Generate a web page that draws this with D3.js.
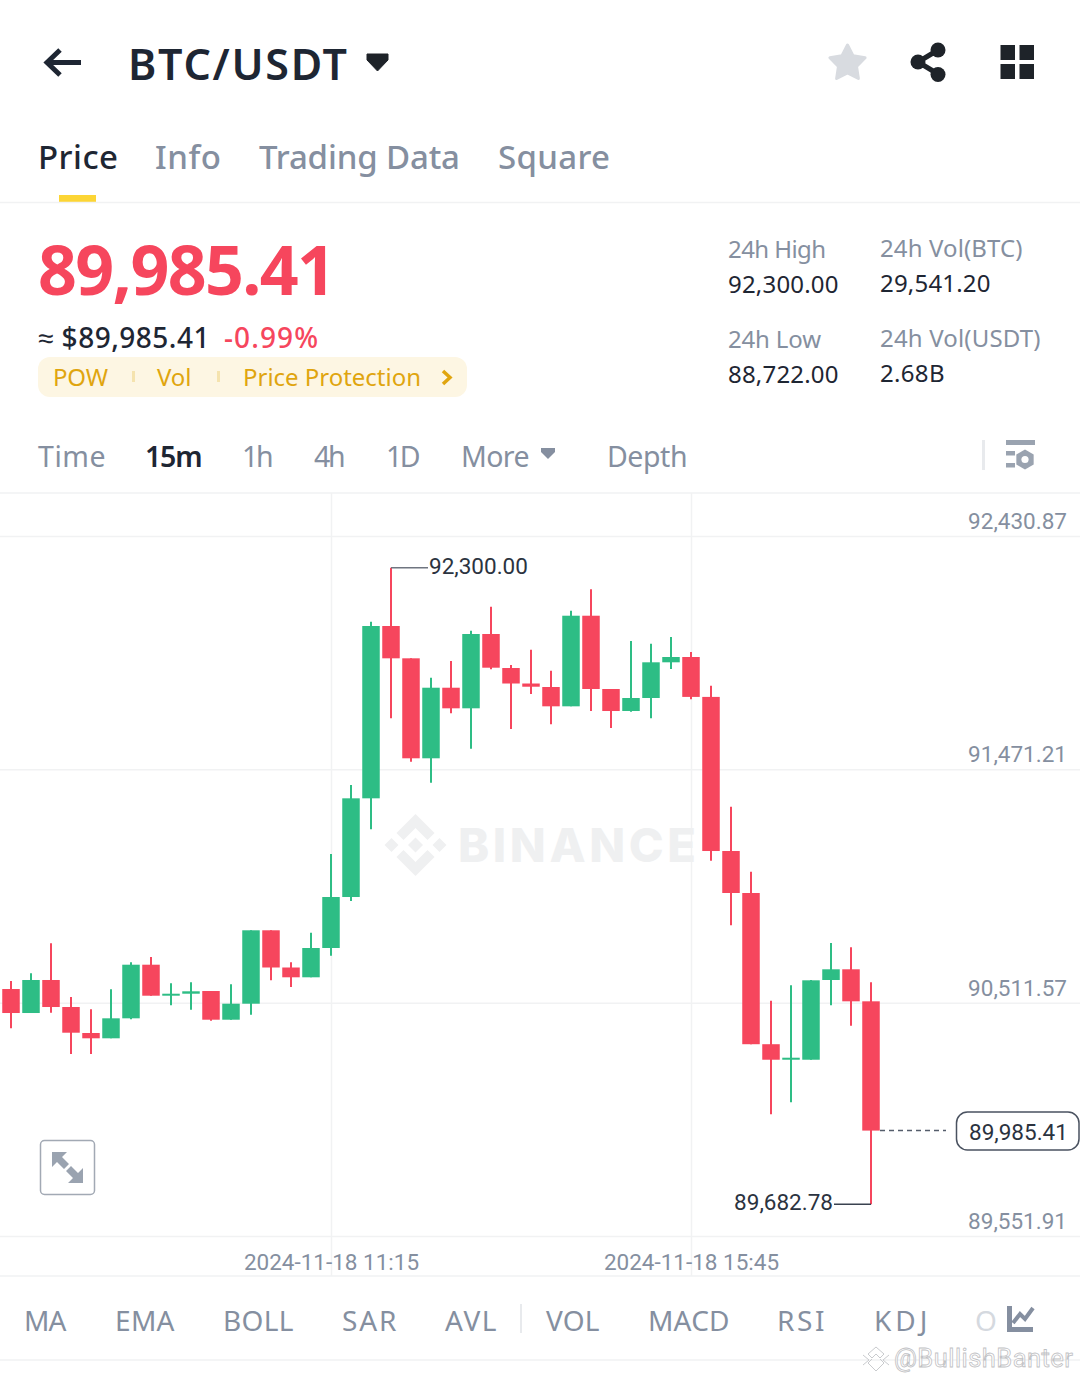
<!DOCTYPE html>
<html><head><meta charset="utf-8">
<script src="https://cdn.jsdelivr.net/npm/d3@7"></script>
<style>html,body{margin:0;padding:0;background:#fff}svg{display:block}</style>
</head><body><div id="c"></div>
<script>
// ---- chart data (BTC/USDT 15m candles) ----
const opens  = [90567.7,90469.0,90604.8,90493.7,90386.8,90365.0,90447.2,90667.7,90540.2,90548.4,90559.5,90441.5,90507.3,90809.2,90656.2,90615.9,90736.4,90946.1,91352.0,92060.7,91927.8,91516.6,91806.9,91722.2,92027.8,91887.9,91824.2,91809.8,91730.4,92103.0,91801.6,91711.1,91764.6,91911.4,91933.2,91769.1,91135.3,90962.6,90340.7,90276.9,90276.9,90604.8,90648.8,90517.1];
const highs  = [90600.6,90632.3,90755.7,90534.8,90484.3,90566.5,90677.6,90699.4,90591.2,90595.3,90559.5,90587.1,90809.2,90809.2,90677.6,90799.3,91123.0,91406.8,92078.4,92300.0,91927.8,91848.0,91916.7,92041.4,92140.1,91900.3,91963.2,91876.8,92123.6,92211.6,91801.6,91999.0,91987.9,92015.4,91953.8,91815.1,91317.5,91050.2,90519.6,90582.9,90604.8,90756.9,90739.3,90595.3];
const lows   = [90406.1,90469.0,90470.3,90300.4,90300.4,90365.0,90443.1,90540.2,90500.7,90482.6,90437.4,90441.5,90462.0,90603.5,90576.0,90615.9,90704.7,90929.7,91224.5,91681.1,91502.6,91416.2,91701.6,91556.1,91882.6,91637.1,91781.0,91656.4,91730.4,91711.1,91641.2,91708.2,91681.1,91883.8,91759.2,91095.5,90829.7,90340.7,90052.4,90101.7,90276.9,90500.7,90416.8,89682.78];
const closes = [90469.0,90604.8,90493.7,90388.0,90365.0,90447.2,90667.7,90540.2,90548.4,90558.3,90441.5,90507.3,90809.2,90656.2,90615.9,90736.4,90946.1,91352.0,92060.7,91927.8,91516.6,91806.9,91722.2,92027.8,91889.2,91824.2,91811.0,91730.4,92103.0,91801.6,91711.1,91764.6,91911.4,91933.2,91769.1,91135.3,90962.6,90340.7,90276.9,90285.2,90603.5,90648.8,90517.1,89985.41];
const yTicks = [92430.87,91471.21,90511.57,89551.91];
const timeTickIndex = [16,34];
const timeTickLabels = ["2024-11-18 11:15","2024-11-18 15:45"];
const highValue = 92300.00, lowValue = 89682.78, lastValue = 89985.41;
const highIndex = 19, lowIndex = 43;

// ---- interface text ----
const tabLabels = ["Price","Info","Trading Data","Square"];
const tabSpans  = [[38,118],[155,221],[259,460],[498,610]];
const rangeLabels = ["Time","15m","1h","4h","1D","More","Depth"];
const rangeSpans  = [[38,105.5],[145,202.5],[242,273.5],[314,345.5],[386,420.5],[461,529.5],[607,687.5]];
const indLabels = ["MA","EMA","BOLL","SAR","AVL","VOL","MACD","RSI","KDJ"];
const indSpans  = [[24,66.5],[115,174.5],[223,293.5],[342,396.5],[445,496.5],[546,599.5],[648,729.5],[777,824.5],[874,927.5]];
const statLabels = ["24h High","24h Vol(BTC)","24h Low","24h Vol(USDT)"];
const statValues = ["92,300.00","29,541.20","88,722.00","2.68B"];

const PLEX = "'Noto Sans',sans-serif", ROB = "Roboto,sans-serif";
const DARK="#1e2633", GREY="#858fa0", RED="#f6465d", GREEN="#2ebd85", GRID="#f1f2f3", GOLD="#e0a50f";
const fmt = d3.format(",.2f");

const svg = d3.select("#c").append("svg").attr("width",1080).attr("height",1381).attr("viewBox","0 0 1080 1381");
svg.append("rect").attr("width",1080).attr("height",1381).attr("fill","#fff");

function T(x,y,s,size,fill,x2,opts={}){
  const t = svg.append("text").attr("x",x).attr("y",y).text(s)
    .attr("font-size",size).attr("fill",fill)
    .attr("font-family",opts.family||PLEX).attr("font-weight",opts.weight||400);
  if(x2!=null){t.attr("textLength",x2-x).attr("lengthAdjust","spacing");}
  if(opts.anchor)t.attr("text-anchor",opts.anchor);
  return t;
}
function hline(x1,x2,y,c,w=1.5){svg.append("line").attr("x1",x1).attr("x2",x2).attr("y1",y).attr("y2",y).attr("stroke",c).attr("stroke-width",w);}

// --- header ---
svg.append("path").attr("d","M81 62.5H49M60 50L47 62.5L60 75").attr("fill","none").attr("stroke",DARK).attr("stroke-width",5);
T(128,80,"BTC/USDT",43,DARK,347,{weight:600});
svg.append("path").attr("d","M367 54H388V60L377.5 71L367 60Z").attr("fill","#1e2329").attr("stroke","#1e2329").attr("stroke-linejoin","round").attr("stroke-width",1);
// star
const starPts = d3.range(10).map(i=>{const r=i%2?9.5:18.5,a=-Math.PI/2+i*Math.PI/5;return [847.5+r*Math.cos(a),63.5+r*Math.sin(a)];});
svg.append("path").attr("d",d3.line()(starPts)+"Z").attr("fill","#d8dbe0").attr("stroke","#d8dbe0").attr("stroke-width",3).attr("stroke-linejoin","round");
// share
svg.append("path").attr("d","M938 50L918 62L938 74").attr("fill","none").attr("stroke","#1e2329").attr("stroke-width",5);
[[918,62],[938,50],[938,74.5]].forEach(p=>svg.append("circle").attr("cx",p[0]).attr("cy",p[1]).attr("r",7.5).attr("fill","#1e2329"));
// grid icon
[[1000.5,45],[1019.5,45],[1000.5,64],[1019.5,64]].forEach(p=>svg.append("rect").attr("x",p[0]).attr("y",p[1]).attr("width",14.5).attr("height",15).attr("fill","#1e2329"));

// --- tabs ---
tabLabels.forEach((s,i)=>T(tabSpans[i][0],168.5,s,33,i?GREY:DARK,tabSpans[i][1],{weight:500}));
svg.append("rect").attr("x",59).attr("y",195).attr("width",37).attr("height",7).attr("fill","#fcd535");
hline(0,1080,202.5,GRID);

// --- price block ---
T(38,295,"89,985.41",68,RED,336,{weight:700});
T(38,348,"≈ $89,985.41",28,DARK,209.5,{weight:500});
T(224,348,"-0.99%",28,RED,318,{weight:500});
svg.append("rect").attr("x",38).attr("y",357).attr("width",429).attr("height",40).attr("rx",12).attr("fill","#fdf6e3");
T(53,385.5,"POW",24,GOLD,108);
T(157,385.5,"Vol",24,GOLD,191.5);
T(243,385.5,"Price Protection",24,GOLD,421);
[132,217].forEach(x=>svg.append("rect").attr("x",x).attr("y",371).attr("width",3).attr("height",11).attr("fill","#f5e3ae"));
svg.append("path").attr("d","M443 371L450 377.5L443 384").attr("fill","none").attr("stroke",GOLD).attr("stroke-width",3.5);

// --- stats ---
T(728,257.5,statLabels[0],24,GREY,826);
T(728,292.5,statValues[0],24,DARK,838.5);
T(880,256.5,statLabels[1],24,GREY,1022.5);
T(880,291.5,statValues[1],24,DARK,990.5);
T(728,347.5,statLabels[2],24,GREY,821);
T(728,382.5,statValues[2],24,DARK,838.5);
T(880,346.5,statLabels[3],24,GREY,1040.5);
T(880,381.5,statValues[3],24,DARK,944.5);

// --- range row ---
rangeLabels.forEach((s,i)=>T(rangeSpans[i][0],467,s,28.5,i===1?DARK:GREY,rangeSpans[i][1],{weight:i===1?600:400}));
svg.append("path").attr("d","M541 448H555V452L548 459L541 452Z").attr("fill",GREY);
svg.append("rect").attr("x",982).attr("y",440).attr("width",3).attr("height",30).attr("fill","#e8eaed");
svg.append("rect").attr("x",1006).attr("y",440).attr("width",29).attr("height",5).attr("fill","#9aa3b0");
svg.append("rect").attr("x",1006).attr("y",451).attr("width",9).attr("height",4.5).attr("fill","#9aa3b0");
svg.append("rect").attr("x",1006).attr("y",463).attr("width",9).attr("height",4.5).attr("fill","#9aa3b0");
const hex = d3.range(6).map(i=>{const a=-Math.PI/2+i*Math.PI/3;return [1025+10*Math.cos(a),459.5+10*Math.sin(a)];});
svg.append("path").attr("d",d3.line()(hex)+"Z").attr("fill","#9aa3b0");
svg.append("circle").attr("cx",1025).attr("cy",459.5).attr("r",3.6).attr("fill","#fff");
hline(0,1080,493,GRID,1.5);

// --- chart ---
const x = d3.scaleLinear().domain([0,43]).range([11,871]);
const y = d3.scaleLinear().domain([yTicks[3],yTicks[0]]).range([1236,536]);

// vertical grid + time axis
const xAxis = d3.axisBottom(x).tickValues(timeTickIndex).tickFormat((d,i)=>timeTickLabels[i]).tickSize(783).tickPadding(-9);
const gx = svg.append("g").attr("transform","translate(0,493)").call(xAxis);
gx.select(".domain").remove();
gx.selectAll("line").attr("stroke",GRID).attr("stroke-width",1.5);
gx.selectAll("text").attr("font-family",ROB).attr("font-size",22.5).attr("fill",GREY)
  .attr("y",null).attr("dy",null).attr("transform",null).each(function(){d3.select(this).attr("y",777);});

// watermark
const lg = svg.append("g").attr("transform","translate(415.5,845)").attr("fill","#eff0f1");
lg.append("path").attr("d","M0 -31L19 -12L12 -5L0 -17L-12 -5L-19 -12Z");
lg.append("path").attr("d","M0 31L19 12L12 5L0 17L-12 5L-19 12Z");
lg.append("path").attr("d","M0 -7.5L7.5 0L0 7.5L-7.5 0Z");
lg.append("path").attr("d","M-24 -7L-17 0L-24 7L-31 0Z");
lg.append("path").attr("d","M24 -7L31 0L24 7L17 0Z");
T(458,862,"BINANCE",47,"#eff0f1",696,{weight:800,family:"Inter,sans-serif"});

// horizontal grid + price axis
const yAxis = d3.axisRight(y).tickValues(yTicks).tickFormat(fmt).tickSize(1080).tickPadding(0);
const gy = svg.append("g").call(yAxis);
gy.select(".domain").remove();
gy.selectAll("line").attr("stroke",GRID).attr("stroke-width",1.5);
gy.selectAll("text").attr("font-family",ROB).attr("font-size",22.5).attr("fill",GREY)
  .attr("text-anchor","end").attr("x",1067).attr("dy",null).attr("y",-7.5);

// candles
const bw = 17.5;
const idx = d3.range(opens.length);
const colour = i => closes[i]>=opens[i]?GREEN:RED;
svg.append("g").selectAll("line").data(idx).join("line")
  .attr("x1",i=>x(i)).attr("x2",i=>x(i)).attr("y1",i=>y(highs[i])).attr("y2",i=>y(lows[i]))
  .attr("stroke",colour).attr("stroke-width",2);
svg.append("g").selectAll("rect").data(idx).join("rect")
  .attr("x",i=>x(i)-bw/2).attr("width",bw)
  .attr("y",i=>y(Math.max(opens[i],closes[i])))
  .attr("height",i=>Math.max(1.6,Math.abs(y(opens[i])-y(closes[i]))))
  .attr("fill",colour);

// high / low callouts
hline(x(highIndex),428,y(highValue),"#6f7580",1.5);
T(429,574,fmt(highValue),22.5,"#2b3340",null,{family:ROB});
hline(834,x(lowIndex),y(lowValue),"#3a4250",1.5);
T(833,1210,fmt(lowValue),22.5,"#2b3340",null,{family:ROB,anchor:"end"});

// last price
svg.append("line").attr("x1",x(lowIndex)+9).attr("x2",946).attr("y1",y(lastValue)).attr("y2",y(lastValue))
  .attr("stroke","#555d6b").attr("stroke-width",1.5).attr("stroke-dasharray","5 4");
svg.append("rect").attr("x",956.5).attr("y",1112).attr("width",122.5).attr("height",38).attr("rx",11).attr("fill","#fff").attr("stroke","#4a5260").attr("stroke-width",1.5);
T(969,1139.5,fmt(lastValue),22.5,"#2b3340",null,{family:ROB});

// expand button
svg.append("rect").attr("x",40.5).attr("y",1140.5).attr("width",54).attr("height",54).attr("rx",4).attr("fill","#fff").attr("stroke","#a2a9b4").attr("stroke-width",1.5);
svg.append("path").attr("d","M52 1152H67L62 1157L69 1164L64 1169L57 1162L52 1167Z").attr("fill","#9aa3b0");
svg.append("path").attr("d","M83 1183H68L73 1178L66 1171L71 1166L78 1173L83 1168Z").attr("fill","#9aa3b0");

// --- indicator row ---
hline(0,1080,1276,GRID,1.5);
hline(0,1080,1360,GRID,1.5);
indLabels.forEach((s,i)=>T(indSpans[i][0],1331,s,28,GREY,indSpans[i][1]));
svg.append("rect").attr("x",520).attr("y",1304).attr("width",2).attr("height",29).attr("fill","#e8eaed");
T(975,1331,"O",28,"#d5d9df",995);
svg.append("path").attr("d","M1007 1306H1012V1327H1033V1332H1007Z").attr("fill",GREY);
svg.append("path").attr("d","M1013 1323L1020 1314L1025 1319L1033 1308").attr("fill","none").attr("stroke",GREY).attr("stroke-width",4);

// author watermark
const em = svg.append("g").attr("transform","translate(876,1360)").attr("fill","none").attr("stroke","#c9cbce").attr("stroke-width",1);
em.append("path").attr("d","M0 -13L8 -6L4 -2L0 -6L-4 -2L-8 -6Z");
em.append("path").attr("d","M0 11L8 3L4 -1M0 11L-8 3L-4 -1");
em.append("path").attr("d","M-13 -5L-7 0L-13 5M13 -5L7 0L13 5");
T(894,1367,"@BullishBanter",25.5,"#ffffff",1073,{family:ROB}).attr("stroke","#bfc1c4").attr("stroke-width",0.8);
</script></body></html>
